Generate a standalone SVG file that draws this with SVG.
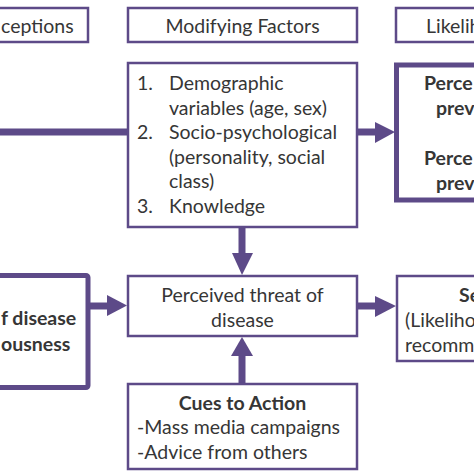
<svg xmlns="http://www.w3.org/2000/svg" width="474" height="474" viewBox="0 0 474 474">
<style>
.bg{fill:#ffffff}
.box{fill:#ffffff;stroke:#5d4a88;stroke-width:2.5}
.thick{fill:#ffffff;stroke:#5d4a88;stroke-width:5}
.t{font-family:Lato,"Open Sans",sans-serif;font-size:19.5px;fill:#363636}
.b{font-weight:bold}
.m{text-anchor:middle}
.shaft{stroke:#5d4a88;stroke-width:7;fill:none}
.head{fill:#5d4a88}
</style>
<rect class="bg" x="0" y="0" width="474" height="474"/>
<g id="connectors">
  <line class="shaft" x1="0" y1="132" x2="128" y2="132"/>
  <line class="shaft" x1="357" y1="132" x2="377" y2="132"/>
  <polygon class="head" points="375,122 395,132 375,143"/>
  <line class="shaft" x1="242" y1="227" x2="242" y2="255"/>
  <polygon class="head" points="232,253 253,253 242,275"/>
  <line class="shaft" x1="88" y1="306" x2="109" y2="306"/>
  <polygon class="head" points="107,295 127,305.5 107,316"/>
  <line class="shaft" x1="357" y1="306" x2="377" y2="306"/>
  <polygon class="head" points="375,296 396,306 375,317"/>
  <line class="shaft" x1="242" y1="383" x2="242" y2="353"/>
  <polygon class="head" points="231,356 253,356 242,337"/>
</g>
<g id="hdr-perceptions">
  <rect class="box" x="-20" y="8" width="108" height="34"/>
  <text class="t" x="1" y="33">ceptions</text>
</g>
<g id="hdr-modifying">
  <rect class="box" x="128" y="8" width="229" height="34"/>
  <text class="t m" x="242.5" y="33">Modifying Factors</text>
</g>
<g id="hdr-likelihood">
  <rect class="box" x="396" y="8" width="100" height="34"/>
  <text class="t" x="426" y="33">Likelih</text>
</g>
<g id="modifying-factors">
  <rect class="box" x="128" y="63" width="229" height="164"/>
  <text class="t" x="137" y="90">1.</text>
  <text class="t" x="169" y="90">Demographic</text>
  <text class="t" x="169" y="114.5">variables (age, sex)</text>
  <text class="t" x="137" y="139">2.</text>
  <text class="t" x="169" y="139">Socio-psychological</text>
  <text class="t" x="169" y="163.5">(personality, social</text>
  <text class="t" x="169" y="188">class)</text>
  <text class="t" x="137" y="212.5">3.</text>
  <text class="t" x="169" y="212.5">Knowledge</text>
</g>
<g id="benefits-barriers">
  <rect class="thick" x="396.5" y="65" width="100" height="135"/>
  <text class="t b" x="424" y="90">Perce</text>
  <text class="t b" x="436" y="115">prev</text>
  <text class="t b" x="424" y="165">Perce</text>
  <text class="t b" x="436" y="190">prev</text>
</g>
<g id="susceptibility-seriousness">
  <rect class="thick" x="-20" y="275.5" width="108" height="112" rx="2"/>
  <text class="t b" x="1" y="325">f disease</text>
  <text class="t b" x="1" y="351">ousness</text>
</g>
<g id="perceived-threat">
  <rect class="box" x="128" y="276" width="229" height="60"/>
  <text class="t m" x="242.5" y="302">Perceived threat of</text>
  <text class="t m" x="242.5" y="327">disease</text>
</g>
<g id="self-efficacy">
  <rect class="box" x="397" y="276" width="100" height="85"/>
  <text class="t b" x="459" y="302">Se</text>
  <text class="t" x="405" y="327">(Likeliho</text>
  <text class="t" x="405" y="352">recomm</text>
</g>
<g id="cues-to-action">
  <rect class="box" x="128" y="384" width="229" height="85"/>
  <text class="t b m" x="242.5" y="410">Cues to Action</text>
  <text class="t" x="137" y="434">-Mass media campaigns</text>
  <text class="t" x="137" y="459">-Advice from others</text>
</g>
</svg>
